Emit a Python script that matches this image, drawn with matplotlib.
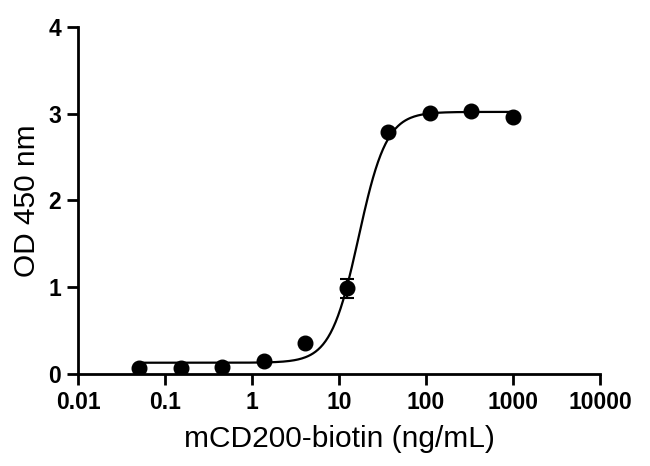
import numpy as np
import matplotlib
matplotlib.use("Agg")
import matplotlib.pyplot as plt

plt.rcParams['font.family'] = ['Liberation Sans', 'DejaVu Sans']

conc = [0.0508, 0.152, 0.457, 1.37, 4.12, 12.3, 37.0, 111, 333, 1000]
od = [0.07, 0.07, 0.08, 0.15, 0.36, 0.99, 2.79, 3.01, 3.03, 2.96]
od_err = [0, 0, 0, 0, 0, 0.11, 0, 0, 0, 0]

# 4PL fit parameters
bottom = 0.13
top = 3.02
ec50 = 16.8
hill = 2.7

xticks = [0.01, 0.1, 1, 10, 100, 1000, 10000]
xticklabels = ["0.01", "0.1", "1", "10", "100", "1000", "10000"]
yticks = [0, 1, 2, 3, 4]

fig = plt.figure(figsize=(6.5, 4.66), dpi=100)
ax = fig.add_axes([0.12, 0.1974, 0.803, 0.745])

xs = np.logspace(np.log10(conc[0]), np.log10(conc[-1]), 300)
fit = bottom + (top - bottom) / (1 + (ec50 / xs) ** hill)
ax.plot(xs, fit, color='black', lw=1.6, zorder=2)

ax.errorbar(conc, od, yerr=od_err, fmt='o', color='black', ms=10.5,
            capsize=5, elinewidth=1.5, capthick=1.5, zorder=3)

ax.set_xscale('log')
ax.set_xlim(0.01, 10000)
ax.set_ylim(0, 4)
ax.set_xticks(xticks)
ax.set_xticklabels(xticklabels)
ax.set_yticks(yticks)
ax.minorticks_off()

for s in ['top', 'right']:
    ax.spines[s].set_visible(False)
for s in ['left', 'bottom']:
    ax.spines[s].set_linewidth(2)
ax.tick_params(axis='both', width=2, length=8, labelsize=16.5, pad=4)
for lbl in ax.get_xticklabels() + ax.get_yticklabels():
    lbl.set_fontweight('bold')

ax.set_xlabel("mCD200-biotin (ng/mL)", fontsize=21.5, labelpad=8)
ax.set_ylabel("OD 450 nm", fontsize=21.5)
ax.yaxis.set_label_coords(-0.07, 0.5)

fig.savefig("out.png", dpi=100)
